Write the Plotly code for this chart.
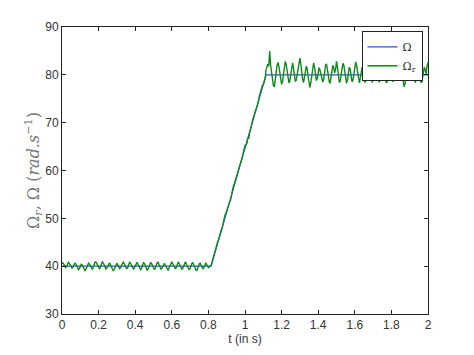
import numpy as np
import plotly.graph_objects as go

# Reference speed Omega (breakpoints)
t_ref = [0.0, 0.815, 1.115, 2.0]
omega_ref = [40, 40, 80, 80]

# Measured speed Omega_r, sampled every 0.005 s
dt = 0.005
omega_r_low = [
    40.5, 40.7, 40.4, 40.0, 39.7, 39.9, 40.4, 40.8,
    40.6, 40.2, 39.8, 39.6, 39.8, 40.2, 40.6, 40.5,
    40.1, 39.6, 39.3, 39.5, 40.0, 40.4, 40.3, 39.9,
    39.5, 39.1, 39.3, 39.8, 40.3, 40.6, 40.4, 40.0,
    39.6, 39.4, 39.7, 40.3, 40.8, 40.9, 40.5, 40.0,
    39.6, 39.5, 39.8, 40.4, 40.9, 40.7, 40.2, 39.7,
    39.4, 39.6, 40.1, 40.6, 40.7, 40.3, 39.8, 39.3,
    39.0, 39.3, 39.9, 40.4, 40.6, 40.2, 39.7, 39.5,
    39.7, 40.2, 40.7, 40.9, 40.5, 40.0, 39.6, 39.5,
    39.8, 40.4, 40.8, 40.6, 40.1, 39.7, 39.4, 39.6,
    40.1, 40.6, 40.8, 40.4, 39.9, 39.5, 39.3, 39.6,
    40.2, 40.7, 40.6, 40.1, 39.6, 39.2, 39.4, 39.9,
    40.4, 40.8, 40.5, 40.0, 39.5, 39.3, 39.6, 40.2,
    40.7, 40.8, 40.3, 39.8, 39.4, 39.5, 40.0, 40.5,
    40.6, 40.2, 39.7, 39.2, 39.1, 39.6, 40.2, 40.7,
    40.9, 40.5, 40.0, 39.5, 39.4, 39.8, 40.4, 40.8,
    40.6, 40.1, 39.6, 39.3, 39.6, 40.2, 40.7, 40.9,
    40.4, 39.9, 39.4, 39.2, 39.5, 40.1, 40.6, 40.7,
    40.2, 39.6, 39.1, 39.0, 39.4, 40.0, 40.5, 40.6,
    40.1, 39.6, 39.4, 39.7, 40.2, 40.6, 40.4, 40.0,
    39.7, 39.8, 40.1,
]
omega_r_ramp = [
    40.2, 40.9, 41.6, 42.3, 43.0, 43.9, 44.6, 45.0, 45.4, 46.4,
    47.3, 47.6, 47.9, 48.9, 49.9, 50.6, 51.0, 51.6, 52.6, 53.2,
    53.3, 53.6, 54.8, 55.8, 56.5, 57.0, 57.6, 58.3, 58.9, 59.4,
    60.0, 60.8, 61.6, 62.2, 62.8, 63.6, 64.5, 65.2, 65.4, 65.6,
    66.9, 66.6, 67.8, 68.9, 69.6, 70.2, 71.0, 71.8, 72.6, 72.8,
    73.2, 74.3, 75.1, 75.8, 76.5, 77.2, 77.8, 77.9, 78.4, 79.2,
]
omega_r_high = [
    81.0, 82.0, 82.3, 81.8, 85.0, 82.0, 80.5, 79.0, 77.8, 77.5,
    78.5, 80.3, 82.0, 82.6, 81.8, 80.2, 78.8, 78.0, 78.6, 80.0,
    81.5, 82.8, 82.2, 80.6, 79.2, 78.3, 78.8, 80.4, 82.1, 82.5,
    81.4, 79.8, 78.6, 78.9, 80.0, 81.2, 82.4, 83.5, 82.3, 80.5,
    79.0, 78.4, 79.2, 80.6, 81.8, 81.3, 79.6, 78.0, 77.3, 78.4,
    80.2, 81.7, 82.5, 81.6, 80.0, 78.8, 79.2, 80.5, 81.5, 81.0,
    80.2, 79.3, 78.5, 79.0, 80.6, 82.0, 82.3, 81.4, 80.0, 78.6,
    78.2, 79.4, 80.8, 82.0, 81.5, 80.4, 81.2, 82.8, 81.6, 79.8,
    78.5, 78.6, 79.8, 81.3, 82.4, 82.0, 80.3, 78.8, 78.2, 79.0,
    80.4, 81.6, 81.2, 79.7, 78.5, 78.9, 80.6, 82.0, 82.7, 81.9,
    80.3, 78.9, 78.3, 79.3, 80.8, 81.6, 81.0, 79.5, 78.4, 78.7,
    80.2, 81.8, 82.9, 82.2, 80.6, 79.1, 78.4, 79.0, 80.3, 81.4,
    81.9, 81.2, 79.8, 78.7, 78.5, 79.6, 81.0, 82.2, 82.6, 81.5,
    79.9, 78.6, 78.3, 79.5, 80.9, 81.8, 81.4, 80.0, 78.8, 78.6,
    79.7, 81.2, 82.4, 82.0, 80.6, 79.6, 80.4, 81.5, 81.0, 79.4,
    78.2, 77.5, 78.3, 79.8, 81.2, 82.0, 81.4, 80.2, 79.8, 80.6,
    81.2, 80.5, 79.2, 78.4, 78.9, 80.2, 81.3, 80.8, 79.6, 78.6,
    78.3, 79.4, 80.8, 81.6, 81.0, 80.2, 81.8, 82.6,
]
omega_r = omega_r_low + omega_r_ramp + omega_r_high
t_r = np.arange(len(omega_r)) * dt

x_ticks = [0, 0.2, 0.4, 0.6, 0.8, 1, 1.2, 1.4, 1.6, 1.8, 2]
x_tick_labels = ["0", "0.2", "0.4", "0.6", "0.8", "1", "1.2", "1.4", "1.6", "1.8", "2"]
y_ticks = [30, 40, 50, 60, 70, 80, 90]

fig = go.Figure()
fig.add_trace(go.Scatter(x=t_ref, y=omega_ref, mode="lines", name="Ω",
                         line=dict(color="#2f4fe0", width=1.2)))
fig.add_trace(go.Scatter(x=t_r, y=omega_r, mode="lines", name="Ω<sub>r</sub>",
                         line=dict(color="#0f8a1a", width=1.4)))

axis_common = dict(showline=True, linecolor="#222", linewidth=1, mirror="ticks",
                   ticks="inside", ticklen=4, tickcolor="#222", showgrid=False,
                   zeroline=False, tickfont=dict(family="Liberation Sans, Arial", size=12, color="#333"))
fig.update_xaxes(range=[0, 2], tickvals=x_ticks, ticktext=x_tick_labels,
                 title=dict(text="t (in s)", font=dict(family="Liberation Sans, Arial", size=12, color="#333"),
                            standoff=2),
                 **axis_common)
fig.update_yaxes(range=[30, 90], tickvals=y_ticks,
                 title=dict(text="Ω<sub><i>r</i></sub>, Ω (<i>rad.s</i><sup>−1</sup>)",
                            font=dict(family="DejaVu Serif, serif", size=16, color="#777"),
                            standoff=0),
                 **axis_common)

fig.update_layout(
    width=474, height=355,
    margin=dict(l=62, r=46, t=27, b=39),
    paper_bgcolor="white", plot_bgcolor="white",
    showlegend=True,
    legend=dict(x=0.985, y=0.985, xanchor="right", yanchor="top",
                bgcolor="white", bordercolor="#222", borderwidth=1,
                font=dict(family="DejaVu Serif, serif", size=11, color="#333"),
                tracegroupgap=0, itemwidth=30),
)

fig.write_html("out.html")
